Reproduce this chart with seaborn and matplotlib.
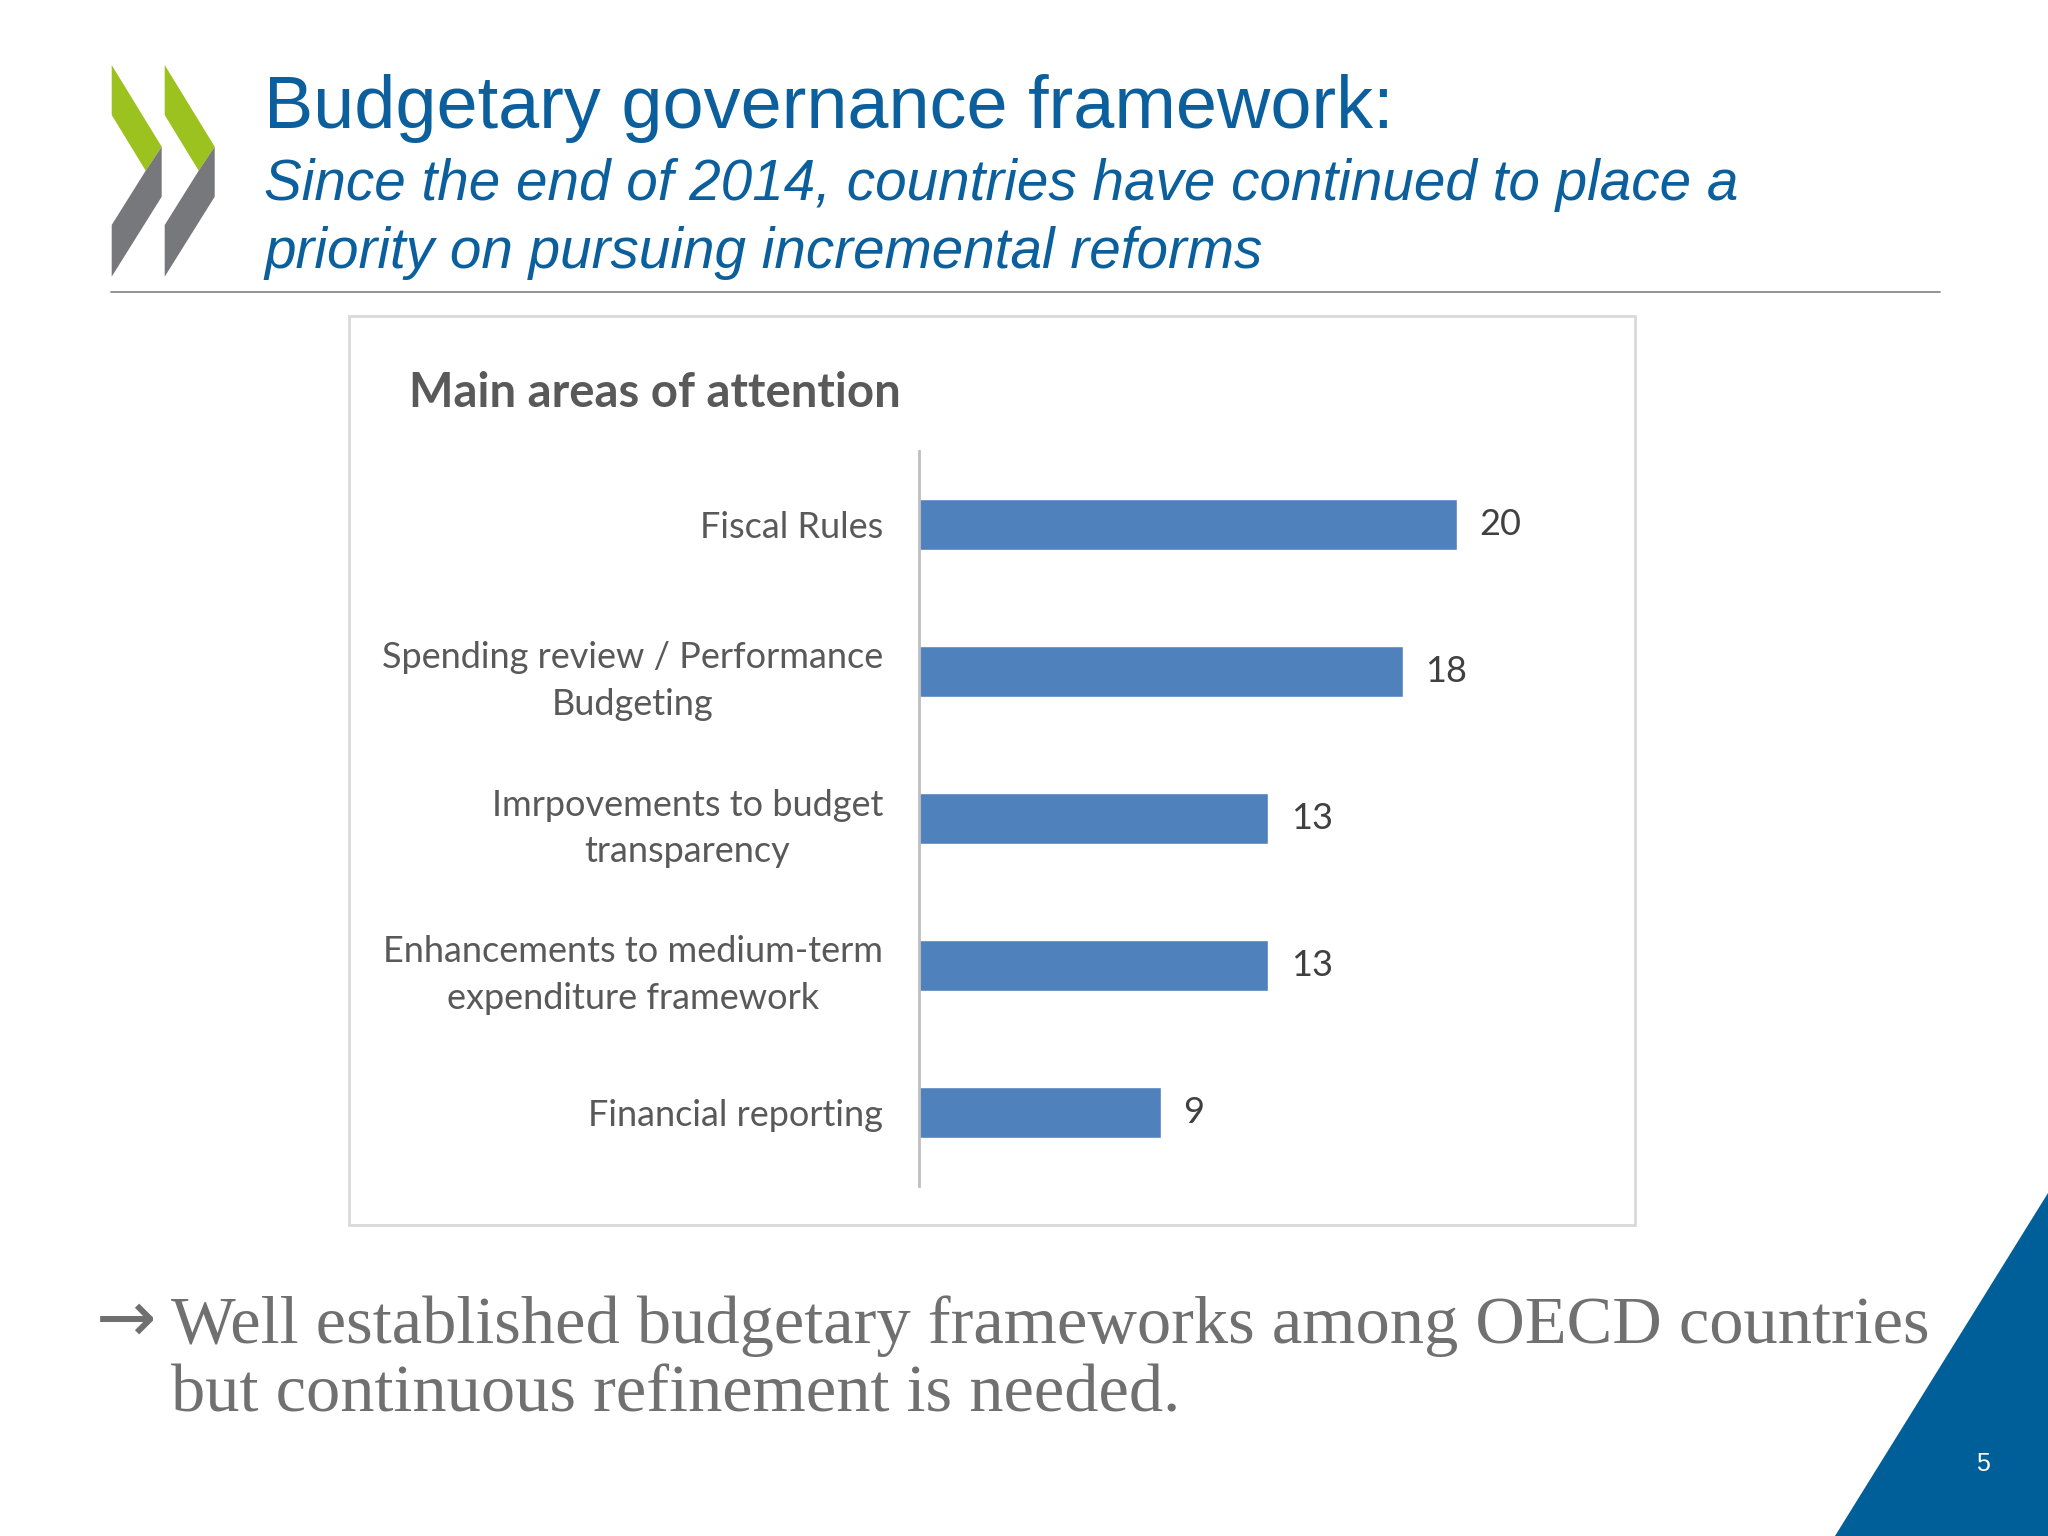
import matplotlib
matplotlib.use("Agg")
import matplotlib.pyplot as plt
from matplotlib.patches import Polygon, Rectangle
import seaborn as sns
import pandas as pd

# chart data
areas = [
    "Fiscal Rules",
    "Spending review / Performance\nBudgeting",
    "Imrpovements to budget\ntransparency",
    "Enhancements to medium-term\nexpenditure framework",
    "Financial reporting",
]
counts = [20, 18, 13, 13, 9]

title = "Budgetary governance framework:"
subtitle = ["Since the end of 2014, countries have continued to place a",
            "priority on pursuing incremental reforms"]
chart_title = "Main areas of attention"
takeaway = ["Well established budgetary frameworks among OECD countries",
            "but continuous refinement is needed."]
page_no = "5"

blue = "#0A5F9C"
bar_blue = "#4F81BD"
green = "#9BC21E"
grey = "#77787B"

sns.set_theme(style="white")
plt.rcParams["font.family"] = ["Lato", "DejaVu Sans"]

W, H = 2048, 1536
fig = plt.figure(figsize=(W / 100, H / 100), dpi=100)
fig.patch.set_facecolor("white")

# slide background in pixel coordinates
bg = fig.add_axes([0, 0, 1, 1])
bg.set_xlim(0, W)
bg.set_ylim(H, 0)
bg.axis("off")

# logo chevrons
for dx in (0, 53):
    g = [(111.7, 65), (161.7, 146.7), (145.7, 170.7), (111.7, 115)]
    k = [(161.7, 146.7), (161.7, 196.7), (111.7, 276.7), (111.7, 225), (145.7, 170.7)]
    bg.add_patch(Polygon([(x + dx, y) for x, y in g], closed=True, fc=green, ec="none"))
    bg.add_patch(Polygon([(x + dx, y) for x, y in k], closed=True, fc=grey, ec="none"))

bg.text(264, 128, title, fontsize=53.2, color=blue, family="Liberation Sans", va="baseline")
bg.text(264, 200, subtitle[0], fontsize=40.8, color=blue, family="Liberation Sans",
        style="italic", va="baseline")
bg.text(264, 268, subtitle[1], fontsize=40.8, color=blue, family="Liberation Sans",
        style="italic", va="baseline")
bg.plot([111, 1940], [292, 292], color="#8a8a8a", lw=1.3)

# chart frame
bg.add_patch(Rectangle((349, 316), 1286, 909, fill=False, ec="#d9d9d9", lw=2))
bg.text(409, 393, chart_title, fontsize=34, fontweight="bold", color="#595959", va="center")

# takeaway text
bg.text(96, 1322, "\u2192", fontsize=52, color="#6f6f6f", family="DejaVu Sans", va="center")
bg.text(171, 1343, takeaway[0], fontsize=49.3, color="#707070", family="Liberation Serif",
        va="baseline")
bg.text(171, 1411, takeaway[1], fontsize=49.3, color="#707070", family="Liberation Serif",
        va="baseline")

# corner triangle + page number
bg.add_patch(Polygon([(2048, 1193), (2048, 1536), (1835, 1536)], closed=True, fc="#005F99", ec="none"))
bg.text(1983, 1464, page_no, fontsize=18, color="white", family="Liberation Sans",
        ha="center", va="center")

# the bar chart itself
ax = fig.add_axes([919 / W, 1 - 1186 / H, 672 / W, 735 / H])
ax.set_facecolor("none")
df = pd.DataFrame({"area": areas, "count": counts})
sns.barplot(data=df, x="count", y="area", color=bar_blue, width=0.345, saturation=1, ax=ax)
ax.set_xlim(0, 25)
ax.set_ylim(4.5, -0.5)
ax.set_xlabel("")
ax.set_ylabel("")
ax.set_xticks([])
for s in ["top", "right", "bottom"]:
    ax.spines[s].set_visible(False)
ax.spines["left"].set_color("#bfbfbf")
ax.spines["left"].set_linewidth(2)
ax.tick_params(axis="y", length=0, pad=26, labelsize=26, labelcolor="#595959")
for t in ax.get_yticklabels():
    t.set_multialignment("center")
    t.set_linespacing(1.5)
ax.bar_label(ax.containers[0], padding=16, fontsize=26, color="#404040")

fig.savefig("out.png", dpi=100)
